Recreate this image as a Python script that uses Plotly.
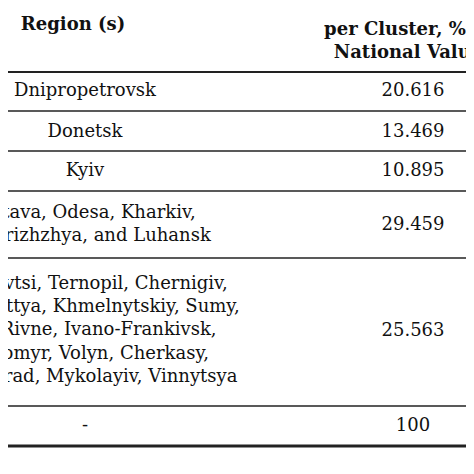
import plotly.graph_objects as go

regions = ["Dnipropetrovsk", "Donetsk", "Kyiv",
           "Poltava, Odesa, Kharkiv,<br>Zaporizhzhya, and Luhansk",
           "Chernivtsi, Ternopil, Chernigiv,<br>Zakarpattya, Khmelnytskiy, Sumy,<br>Lviv, Rivne, Ivano-Frankivsk,<br>Zhytomyr, Volyn, Cherkasy,<br>Kirovohrad, Mykolayiv, Vinnytsya",
           "-"]
values = ["20.616", "13.469", "10.895", "29.459", "25.563", "100"]
header_left = "<b>Region (s)</b>"
header_right = "<b>per Cluster, % of</b><br><b>National Value</b>"

row_y = [83, 124, 163, 217, 323, 418]
lines = [(64, 2.2), (103, 1.6), (143, 1.6), (183, 1.6), (250, 1.6), (398, 1.6), (438, 3)]
left_x, right_x = 77, 405
font = dict(family="DejaVu Serif", size=18, color="#111")

fig = go.Figure()
fig.add_trace(go.Scatter(x=[left_x]*len(regions), y=row_y, text=regions, mode="text",
                         textfont=font, cliponaxis=False, hoverinfo="skip"))
fig.add_trace(go.Scatter(x=[right_x]*len(values), y=row_y, text=values, mode="text",
                         textfont=font, cliponaxis=False, hoverinfo="skip"))
fig.add_trace(go.Scatter(x=[65, 400], y=[17, 34], text=[header_left, header_right], mode="text",
                         textfont=dict(family="DejaVu Serif", size=18, color="#111"),
                         cliponaxis=False, hoverinfo="skip"))
for y, w in lines:
    fig.add_shape(type="line", x0=0, x1=474, y0=y, y1=y, line=dict(color="#222", width=w))

fig.update_layout(width=474, height=474, margin=dict(l=0, r=0, t=0, b=0),
                  paper_bgcolor="white", plot_bgcolor="white", showlegend=False,
                  xaxis=dict(range=[0, 474], visible=False, fixedrange=True),
                  yaxis=dict(range=[474, 0], visible=False, fixedrange=True))
fig.write_html("out.html")
